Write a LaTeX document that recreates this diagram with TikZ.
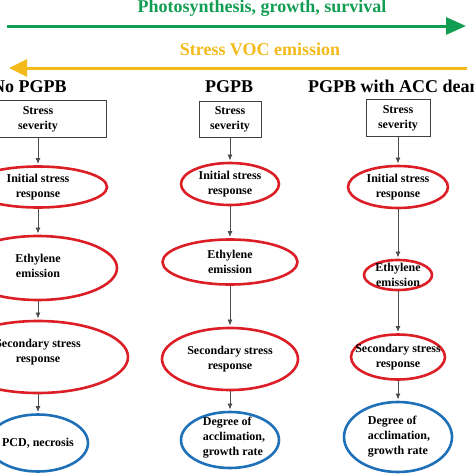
\documentclass[tikz,border=0pt]{standalone}
\usepackage{fontspec}
\setmainfont{Liberation Serif}
\usetikzlibrary{arrows.meta,shapes.geometric}
\definecolor{ellred}{RGB}{220,30,38}
\definecolor{ellblue}{RGB}{30,112,184}
\definecolor{arrgreen}{RGB}{18,158,82}
\definecolor{arryellow}{RGB}{243,186,26}
\begin{document}
\begin{tikzpicture}[x=1pt,y=-1pt,
    every node/.style={font=\bfseries\fontsize{12}{15}\selectfont,align=center,inner sep=0pt},
    bigtxt/.style={font=\bfseries\fontsize{18}{22}\selectfont},
    sevbox/.style={draw=black!75,line width=1pt},
    redell/.style={ellipse,draw=ellred,line width=2.6pt},
    blueell/.style={ellipse,draw=ellblue,line width=2.6pt},
    flow/.style={black!70,line width=0.8pt,shorten >=1.2pt,-{Latex[length=6pt,width=5pt]}}]
    \useasboundingbox (0,0) rectangle (474,474);
    \clip (0,0) rectangle (474,474);

    % gradient arrows on top
    \coordinate (gstart) at (7,26);
    \coordinate (gend) at (466,26);
    \draw[arrgreen,line width=3pt,-{Triangle[length=20pt,width=17pt]}] (gstart) -- (gend);
    \node[bigtxt,text=arrgreen,anchor=base] (gtext) at (262,12) {Photosynthesis, growth, survival};
    \coordinate (ystart) at (467,68);
    \coordinate (yend) at (9,68);
    \draw[arryellow,line width=3pt,-{Triangle[length=18pt,width=17pt]}] (ystart) -- (yend);
    \node[bigtxt,text=arryellow,anchor=base] (ytext) at (260,55) {Stress VOC emission};

    % column headers
    \node[bigtxt,anchor=base west] (head1) at (-8,92) {No PGPB};
    \node[bigtxt,anchor=base] (head2) at (229,92) {PGPB};
    \node[bigtxt,anchor=base west] (head3) at (308,92) {PGPB with ACC deaminase};

    % no PGPB
    \node[sevbox,minimum width=136pt,minimum height=37pt] (sev1) at (38,119) {Stress\\severity};
    \node[redell,minimum width=138pt,minimum height=41pt] (init1) at (38,187) {};
    \node (init1t) at (init1) {Initial stress\\response};
    \node[redell,minimum width=158pt,minimum height=64pt] (eth1) at (38,268) {};
    \node (eth1t) at ([yshift=2pt]eth1) {Ethylene\\emission};
    \node[redell,minimum width=180pt,minimum height=72pt] (sec1) at (38,357) {};
    \node (sec1t) at ([yshift=5pt]sec1) {Secondary stress\\response};
    \node[blueell,minimum width=100pt,minimum height=57pt] (out1) at (38,443) {};
    \node (out1t) at (out1) {PCD, necrosis};
    \draw[flow] (sev1) -- (init1);
    \draw[flow] (init1) -- (eth1);
    \draw[flow] (eth1) -- (sec1);
    \draw[flow] (sec1) -- (out1);

    % PGPB
    \node[sevbox,minimum width=62pt,minimum height=36pt] (sev2) at (230,119) {Stress\\severity};
    \node[redell,minimum width=98pt,minimum height=42pt] (init2) at (230,184) {};
    \node (init2t) at (init2) {Initial stress\\response};
    \node[redell,minimum width=135pt,minimum height=45pt] (eth2) at (230,262) {};
    \node (eth2t) at (eth2) {Ethylene\\emission};
    \node[redell,minimum width=136pt,minimum height=62pt] (sec2) at (230,359) {};
    \node (sec2t) at (sec2) {Secondary stress\\response};
    \node[blueell,minimum width=98pt,minimum height=56pt] (out2) at (230,440) {};
    \node[align=left] (out2t) at ([xshift=4pt,yshift=2pt]out2) {Degree of\\acclimation,\\growth rate};
    \draw[flow] (sev2) -- (init2);
    \draw[flow] (init2) -- (eth2);
    \draw[flow] (eth2) -- (sec2);
    \draw[flow] (sec2) -- (out2);

    % PGPB with ACC deaminase
    \node[sevbox,minimum width=64pt,minimum height=37pt] (sev3) at (398,118) {Stress\\severity};
    \node[redell,minimum width=100pt,minimum height=42pt] (init3) at (398,187) {};
    \node (init3t) at (init3) {Initial stress\\response};
    \node[redell,minimum width=68pt,minimum height=30pt] (eth3) at (398,275) {};
    \node (eth3t) at (eth3) {Ethylene\\emission};
    \node[redell,minimum width=94pt,minimum height=45pt] (sec3) at (398,357) {};
    \node (sec3t) at (sec3) {Secondary stress\\response};
    \node[blueell,minimum width=108pt,minimum height=70pt] (out3) at (398,437) {};
    \node[align=left] (out3t) at ([xshift=1pt]out3) {Degree of\\acclimation,\\growth rate};
    \draw[flow] (sev3) -- (init3);
    \draw[flow] (init3) -- (eth3);
    \draw[flow] (eth3) -- (sec3);
    \draw[flow] (sec3) -- (out3);
\end{tikzpicture}
\end{document}
